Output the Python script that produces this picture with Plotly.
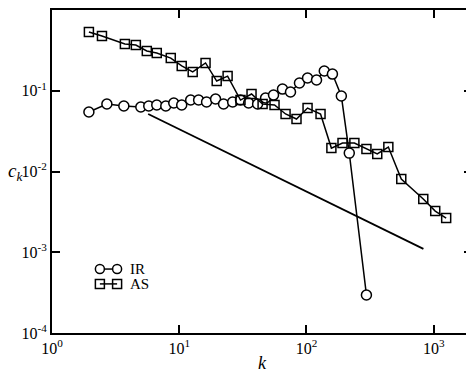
import plotly.graph_objects as go

# IR series
ir_k = [1.95, 2.70, 3.67, 4.99, 5.76, 6.66, 7.84, 9.06, 10.46, 12.3, 14.2, 16.4, 19.3, 22.3,
        26.3, 30.3, 35.1, 41.3, 47.7, 55.1, 64.8, 74.9, 88.1, 102, 120, 138, 160, 188, 217, 296]
ir_c = [0.0546, 0.0686, 0.0647, 0.0629, 0.0647, 0.0666, 0.0647, 0.0705, 0.0666, 0.0768, 0.0768,
        0.0726, 0.0791, 0.0686, 0.0726, 0.0768, 0.0705, 0.0686, 0.0813, 0.0885, 0.105, 0.0966,
        0.125, 0.144, 0.136, 0.176, 0.161, 0.0861, 0.0169, 0.000296]

# AS series
as_k = [1.95, 2.47, 3.74, 4.56, 5.56, 6.66, 8.58, 10.46, 12.76, 16.1, 19.7, 24.0, 30.3, 37.0,
        45.2, 56.1, 68.5, 83.5, 102, 129, 157, 192, 238, 296, 360, 440, 556, 828, 1028, 1253]
as_c = [0.534, 0.476, 0.379, 0.369, 0.311, 0.293, 0.254, 0.203, 0.171, 0.221, 0.132, 0.152,
        0.0768, 0.0912, 0.0686, 0.0666, 0.0516, 0.0447, 0.0611, 0.0516, 0.0195, 0.0225, 0.0225,
        0.0190, 0.0165, 0.0201, 0.00807, 0.00456, 0.00324, 0.00265]

# reference power-law line
ref_k = [5.7, 830]
ref_c = [0.0515, 0.0011]

x_ticks = [1, 10, 100, 1000]
x_labels = ["10<sup>0</sup>", "10<sup>1</sup>", "10<sup>2</sup>", "10<sup>3</sup>"]
y_ticks = [1e-4, 1e-3, 1e-2, 1e-1, 1]
y_labels = ["10<sup>-4</sup>", "10<sup>-3</sup>", "10<sup>-2</sup>", "10<sup>-1</sup>", "10<sup>0</sup>"]

font = dict(family="Liberation Serif, Times New Roman, serif", size=16, color="black")
leg_font = dict(family="Liberation Serif, Times New Roman, serif", size=15, color="black")

fig = go.Figure()
fig.add_trace(go.Scatter(x=ref_k, y=ref_c, mode="lines", line=dict(color="black", width=1.8),
                         showlegend=False))
fig.add_trace(go.Scatter(x=ir_k, y=ir_c, mode="lines+markers", name="IR",
                         line=dict(color="black", width=1.5),
                         marker=dict(symbol="circle", size=10, color="white",
                                     line=dict(color="black", width=1.5)),
                         showlegend=False))
fig.add_trace(go.Scatter(x=as_k, y=as_c, mode="lines+markers", name="AS",
                         line=dict(color="black", width=1.5),
                         marker=dict(symbol="square-open", size=9, color="black",
                                     line=dict(color="black", width=1.5)),
                         showlegend=False))

# custom legend glyphs on an overlay axis (0..1 of the plot area)
leg_x = [0.114, 0.155]
fig.add_trace(go.Scatter(x=leg_x, y=[0.198, 0.198], mode="lines+markers", xaxis="x2", yaxis="y2",
                         line=dict(color="black", width=1.5),
                         marker=dict(symbol="circle", size=9, color="white",
                                     line=dict(color="black", width=1.5)),
                         showlegend=False, hoverinfo="skip"))
fig.add_trace(go.Scatter(x=leg_x, y=[0.152, 0.152], mode="lines+markers", xaxis="x2", yaxis="y2",
                         line=dict(color="black", width=1.5),
                         marker=dict(symbol="square-open", size=9, color="black",
                                     line=dict(color="black", width=1.5)),
                         showlegend=False, hoverinfo="skip"))

fig.add_annotation(x=0.181, y=0.198, xref="paper", yref="paper", text="IR", showarrow=False,
                   xanchor="left", yanchor="middle", font=leg_font)
fig.add_annotation(x=0.181, y=0.152, xref="paper", yref="paper", text="AS", showarrow=False,
                   xanchor="left", yanchor="middle", font=leg_font)

# axis titles
fig.add_annotation(x=0.5, y=-0.093, xref="paper", yref="paper", text="<i>k</i>", showarrow=False,
                   xanchor="center", yanchor="middle",
                   font=dict(family=font["family"], size=18, color="black"))
fig.add_annotation(x=-0.086, y=0.5, xref="paper", yref="paper", text="<i>c</i><sub><i>k</i></sub>",
                   showarrow=False, xanchor="center", yanchor="middle",
                   font=dict(family=font["family"], size=19, color="black"))

fig.update_layout(
    width=466, height=377,
    margin=dict(l=44, r=2, t=2, b=52, autoexpand=False),
    paper_bgcolor="white", plot_bgcolor="white",
    font=font,
    xaxis=dict(type="log", range=[0, 3.301], tickvals=x_ticks, ticktext=x_labels,
               ticks="inside", ticklen=8, tickwidth=1.5, tickcolor="black",
               showline=True, linecolor="black", linewidth=2, mirror="ticks",
               showgrid=False, zeroline=False, tickfont=font, automargin=False),
    yaxis=dict(type="log", range=[-4, 0.0005], tickvals=y_ticks, ticktext=y_labels,
               ticks="inside", ticklen=8, tickwidth=1.5, tickcolor="black",
               showline=True, linecolor="black", linewidth=2, mirror="ticks",
               showgrid=False, zeroline=False, tickfont=font, automargin=False),
    xaxis2=dict(overlaying="x", range=[0, 1], visible=False, fixedrange=True),
    yaxis2=dict(overlaying="y", range=[0, 1], visible=False, fixedrange=True),
)

fig.write_html("out.html")
